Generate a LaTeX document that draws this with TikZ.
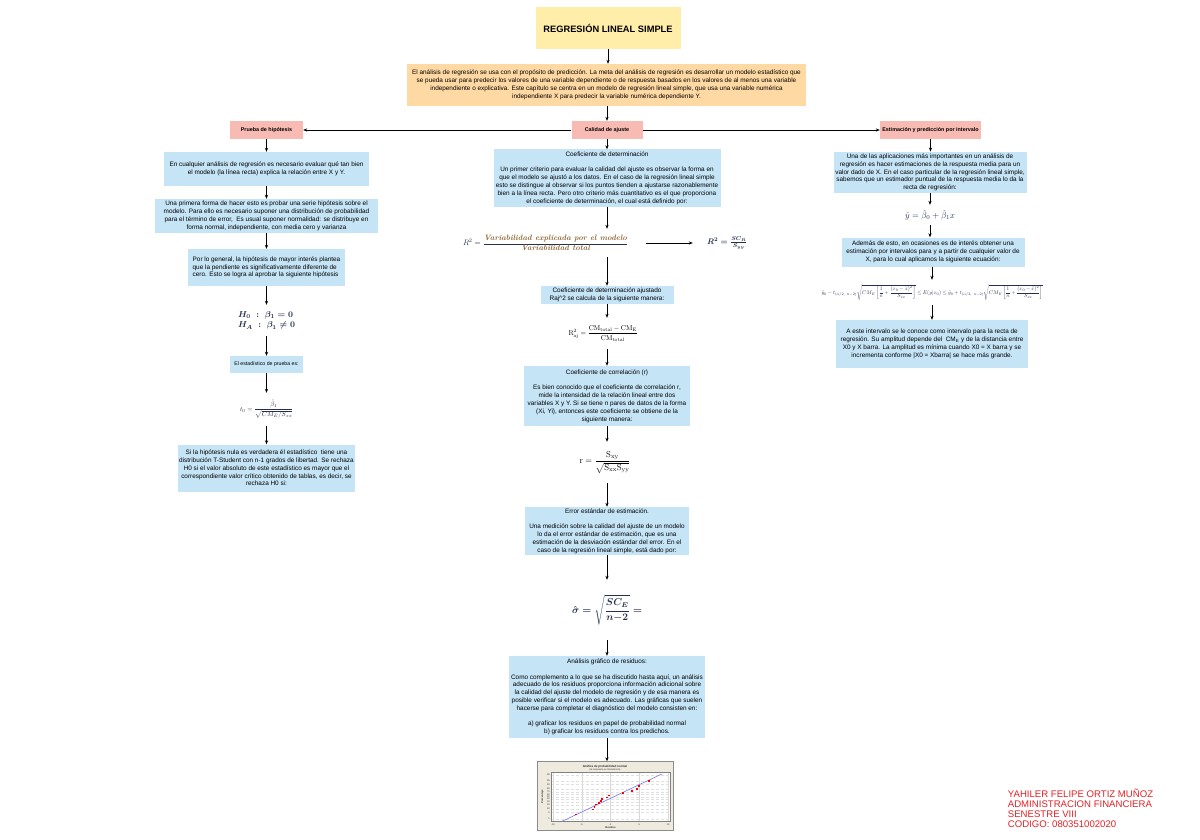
\documentclass[tikz,border=0pt]{standalone}
\usepackage{amsmath}
\usepackage{graphicx}
\usepackage{fontspec}
\setsansfont{Liberation Sans}
\usetikzlibrary{arrows.meta}
\definecolor{bluebox}{RGB}{197,228,246}
\definecolor{pinkbox}{RGB}{248,187,180}
\definecolor{peach}{RGB}{255,217,163}
\definecolor{titley}{RGB}{255,238,170}
\definecolor{navy}{RGB}{38,48,78}
\definecolor{brownf}{RGB}{140,100,45}
\definecolor{redtxt}{RGB}{230,32,36}
\definecolor{beige}{RGB}{238,234,222}
\definecolor{plotblue}{RGB}{120,120,240}
\begin{document}
\begin{tikzpicture}[x=1pt,y=-1pt,
  bx/.style={rectangle, inner sep=0pt, align=center, font=\sffamily\fontsize{6.4}{7.8}\selectfont},
  bluebx/.style={bx, fill=bluebox},
  pinkbx/.style={rectangle, fill=pinkbox, inner sep=0pt, minimum height=18pt, font=\sffamily\bfseries\fontsize{5.4}{6}\selectfont},
  fml/.style={inner sep=0pt, text=navy},
  fmlk/.style={inner sep=0pt, text=black},
  arr/.style={-{Stealth[length=4pt,width=3.2pt]}, line width=0.7pt, black},
  tiny/.style={inner sep=0pt, font=\sffamily\fontsize{2.4}{2.8}\selectfont, text=black!80},
  dot/.style={fill=red, draw=none},
]
\path[fill=white, use as bounding box] (0,0) rectangle (1200,840);

% ---------- top ----------
\node[bx, fill=titley, minimum width=145pt, minimum height=42pt,
      font=\sffamily\bfseries\fontsize{9.3}{11}\selectfont] (title) at (608,28) {REGRESIÓN LINEAL SIMPLE};
\node[bx, fill=peach, minimum width=399pt, minimum height=42pt] (intro) at (606.5,85)
 {El análisis de regresión se usa con el propósito de predicción. La meta del análisis de regresión es desarrollar un modelo estadístico que\\
  se pueda usar para predecir los valores de una variable dependiente o de respuesta basados en los valores de al menos una variable\\
  independiente o explicativa. Este capítulo se centra en un modelo de regresión lineal simple, que usa una variable numérica\\
  independiente X para predecir la variable numérica dependiente Y.};
\node[pinkbx, minimum width=71pt] (calidad) at (607,130) {Calidad de ajuste};
\node[pinkbx, minimum width=73pt] (prueba) at (266.5,130) {Prueba de hipótesis};
\node[pinkbx, minimum width=101pt] (estim) at (930.5,130) {Estimación y predicción por intervalo};

% ---------- left column ----------
\node[bluebx, minimum width=205pt, minimum height=34pt] (L1) at (266.5,169)
 {En cualquier análisis de regresión es necesario evaluar qué tan bien\\
  el modelo (la línea recta) explica la relación entre X y Y.};
\node[bluebx, minimum width=223pt, minimum height=34pt] (L2) at (266.5,216)
 {Una primera forma de hacer esto es probar una serie hipótesis sobre el\\
  modelo. Para ello es necesario suponer una distribución de probabilidad\\
  para el término de error,\ \ Es usual suponer normalidad: se distribuye en\\
  forma normal, independiente, con media cero y varianza};
\node[bluebx, align=left, minimum width=157pt, minimum height=37pt] (L3) at (266.5,267.5)
 {Por lo general, la hipótesis de mayor interés plantea\\
  que la pendiente es significativamente diferente de\\
  cero. Esto se logra al aprobar la siguiente hipótesis};
\node[fml, minimum height=31pt] (hyp) at (266.5,320.5)
 {\resizebox{57pt}{!}{\boldmath$\begin{array}{@{}l@{}} H_0\ :\ \beta_1 = 0\\ H_A\ :\ \beta_1 \neq 0\end{array}$}};
\node[bluebx, minimum width=73pt, minimum height=17pt, font=\sffamily\fontsize{5.2}{6}\selectfont] (L4) at (266.5,364.5)
 {El estadístico de prueba es:};
\node[fml, minimum height=33pt] (tzero) at (266.5,409.5)
 {\resizebox{53pt}{!}{$t_0 = \dfrac{\hat{\beta}_1}{\sqrt{CM_E/S_{xx}}}$}};
\node[bluebx, minimum width=177pt, minimum height=47pt] (L5) at (266.5,468)
 {Si la hipótesis nula es verdadera él estadístico\ \ tiene una\\
  distribución T-Student con n-1 grados de libertad. Se rechaza\\
  H0 si el valor absoluto de este estadístico es mayor que el\\
  correspondiente valor crítico obtenido de tablas, es decir, se\\
  rechaza H0 si:};

% ---------- middle column ----------
\node[bluebx, minimum width=227pt, minimum height=57pt] (M1) at (607,178)
 {Coeficiente de determinación\\[7.8pt]
  Un primer criterio para evaluar la calidad del ajuste es observar la forma en\\
  que el modelo se ajustó a los datos. En el caso de la regresión lineal simple\\
  esto se distingue al observar si los puntos tienden a ajustarse razonablemente\\
  bien a la línea recta. Pero otro criterio más cuantitativo es el que proporciona\\
  el coeficiente de determinación, el cual está definido por:};
\node[fml, inner xsep=18pt, minimum height=28pt] (R2a) at (545.5,243)
 {\resizebox{165pt}{!}{$R^2 = \dfrac{\textcolor{brownf}{\mbox{\rmfamily\bfseries\itshape Variabilidad explicada por el modelo}}}{\textcolor{brownf}{\mbox{\rmfamily\bfseries\itshape Variabilidad total}}}$}};
\node[fml, inner xsep=14pt, minimum height=28pt] (R2b) at (727,243)
 {\resizebox{40pt}{!}{\boldmath$R^2 = \frac{SC_R}{S_{yy}}$}};
\node[bluebx, minimum width=133pt, minimum height=18pt] (M2) at (607,295)
 {Coeficiente de determinación ajustado\\
  Raj\textasciicircum 2 se calcula de la siguiente manera:};
\node[fmlk, minimum height=31pt] (Radj) at (603,333.5)
 {\resizebox{69pt}{!}{$\mathrm{R}^2_{\mathrm{aj}} = \dfrac{\mathrm{CM_{total}} - \mathrm{CM_E}}{\mathrm{CM_{total}}}$}};
\node[bluebx, minimum width=166pt, minimum height=60pt] (M3) at (607,396)
 {Coeficiente de correlación (r)\\[7.8pt]
  Es bien conocido que el coeficiente de correlación r,\\
  mide la intensidad de la relación lineal entre dos\\
  variables X y Y. Si se tiene n pares de datos de la forma\\
  (Xi, Yi), entonces este coeficiente se obtiene de la\\
  siguiente manera:};
\node[fmlk, minimum height=41pt] (rf) at (605,462.5)
 {\resizebox{51pt}{!}{$\mathrm{r} = \dfrac{\mathrm{S_{xy}}}{\sqrt{\mathrm{S_{xx}S_{yy}}}}$}};
\node[bluebx, minimum width=164pt, minimum height=48pt] (M4) at (607,531)
 {Error estándar de estimación.\\[7.8pt]
  Una medición sobre la calidad del ajuste de un modelo\\
  lo da el error estándar de estimación, que es una\\
  estimación de la desviación estándar del error. En el\\
  caso de la regresión lineal simple, está dado por:};
\node[fml, minimum height=60pt] (sig) at (607,610)
 {\resizebox{70pt}{!}{\boldmath$\hat{\sigma} = \sqrt{\dfrac{SC_E}{n{-}2}}=$}};
\node[bluebx, minimum width=196pt, minimum height=82pt] (M5) at (607,697)
 {Análisis gráfico de residuos:\\[7.8pt]
  Como complemento a lo que se ha discutido hasta aquí, un análisis\\
  adecuado de los residuos proporciona información adicional sobre\\
  la calidad del ajuste del modelo de regresión y de esa manera es\\
  posible verificar si el modelo es adecuado. Las gráficas que suelen\\
  hacerse para completar el diagnóstico del modelo consisten en:\\[7.8pt]
  a) graficar los residuos en papel de probabilidad normal\\
  b) graficar los residuos contra los predichos.};

% chart
\node[draw=black!45, line width=0.5pt, fill=beige, minimum width=135.5pt, minimum height=69pt, inner sep=0pt] (chart) at (605.25,796) {};
\fill[white] (551,772) rectangle (670,821.5);
\foreach \gx in {553,581.75,610.5,639.25,668} \draw[black!15, line width=0.3pt] (\gx,772) -- (\gx,821.5);
\foreach \gy/\lab in {774.65/99,781.1/95,784.6/90,788.75/80,791.77/70,794.34/60,796.75/50,799.16/40,801.73/30,804.75/20,808.93/10,812.38/5,818.85/1}{
  \draw[black!12, densely dashed, line width=0.25pt] (551,\gy) -- (670,\gy);
  \node[tiny, anchor=east] at (550,\gy) {\lab};
}
\draw[black!50, line width=0.4pt] (551,772) rectangle (670,821.5);
\foreach \gx/\lab in {553/-10,581.75/-5,610.5/0,639.25/5,668/10} \node[tiny] at (\gx,824.5) {\lab};
\node[tiny, font=\sffamily\bfseries\fontsize{3}{3.5}\selectfont] at (605,766.5) {Gráfica de probabilidad normal};
\node[tiny] at (605,769.6) {(la respuesta es Resistencia)};
\node[tiny, font=\sffamily\bfseries\fontsize{2.6}{3}\selectfont] at (610.5,828) {Residuo};
\node[tiny, rotate=90, font=\sffamily\bfseries\fontsize{2.6}{3}\selectfont] at (542.5,797) {Porcentaje};
\draw[plotblue, line width=0.6pt] (561.7,821.5) -- (661.7,774);
\foreach \px/\py in {575.7/814.3,592.7/809.3,594.3/806.7,596/804.3,599/802.7,600.7/800.7,602/799,607/797.3,608.7/795.3,623/793,631.7/791,637/788.7,638.7/785.7,649/780.7}
  \fill[dot] (\px-0.8,\py-0.8) rectangle (\px+0.8,\py+0.8);

% ---------- right column ----------
\node[bluebx, minimum width=193pt, minimum height=41.5pt] (R1) at (930,172.5)
 {Una de las aplicaciones más importantes en un análisis de\\
  regresión es hacer estimaciones de la respuesta media para un\\
  valor dado de X. En el caso particular de la regresión lineal simple,\\
  sabemos que un estimador puntual de la respuesta media lo da la\\
  recta de regresión:};
\node[fml, minimum height=20pt] (yhat) at (930,215)
 {\resizebox{50pt}{!}{$\hat{y} = \hat{\beta}_0 + \hat{\beta}_1 x$}};
\node[bluebx, minimum width=183pt, minimum height=29pt] (R2) at (933,252)
 {Además de esto, en ocasiones es de interés obtener una\\
  estimación por intervalos para y a partir de cualquier valor de\\
  X, para lo cual aplicamos la siguiente ecuación:};
\node[fml, minimum height=25pt] (intv) at (932,292.5)
 {\resizebox{221pt}{!}{$\hat{y}_0 - t_{(\alpha/2,\ n-2)}\sqrt{CM_E\left[\dfrac{1}{n}+\dfrac{(x_0-\bar{x})^2}{S_{xx}}\right]} \le E(y|x_0) \le \hat{y}_0 + t_{(\alpha/2,\ n-2)}\sqrt{CM_E\left[\dfrac{1}{n}+\dfrac{(x_0-\bar{x})^2}{S_{xx}}\right]}$}};
\node[bluebx, minimum width=192pt, minimum height=48pt] (R3) at (932,344)
 {A este intervalo se le conoce como intervalo para la recta de\\
  regresión. Su amplitud depende del\ \ CM\textsubscript{E} y de la distancia entre\\
  X0 y X barra. La amplitud es mínima cuando X0 = X barra y se\\
  incrementa conforme |X0 = Xbarra| se hace más grande.};

% author
\node[anchor=north west, align=left, inner sep=0pt, text=redtxt,
      font=\sffamily\fontsize{9.6}{10}\selectfont] (author) at (1007.7,788.5)
 {YAHILER FELIPE ORTIZ MUÑOZ\\ADMINISTRACION FINANCIERA\\SENESTRE VIII\\CODIGO: 080351002020};

% ---------- connectors ----------
\draw[arr] (title.south) -- (title.south |- intro.north);
\draw[arr] (intro.south -| calidad.north) -- (calidad.north);
\draw[arr] (calidad.west) -- (prueba.east);
\draw[arr] (calidad.east) -- (estim.west);
% left
\draw[arr] (prueba.south) -- (L1.north);
\draw[arr] (L1.south) -- (L2.north);
\draw[arr] (L2.south) -- (L3.north);
\draw[arr] (L3.south) -- (hyp.north);
\draw[arr] (hyp.south) -- (L4.north);
\draw[arr] (L4.south) -- (tzero.north);
\draw[arr] (tzero.south) -- (L5.north);
% middle
\draw[arr] (calidad.south) -- (M1.north);
\draw[arr] (M1.south) -- (M1.south |- R2a.north);
\draw[arr] (R2a.east) -- (R2b.west);
\draw[arr] (R2a.south -| M2.north) -- (M2.north);
\draw[arr] (M2.south) -- (M2.south |- Radj.north);
\draw[arr] (Radj.south -| M3.north) -- (M3.north);
\draw[arr] (M3.south) -- (M3.south |- rf.north);
\draw[arr] (rf.south -| M4.north) -- (M4.north);
\draw[arr] (M4.south) -- (sig.north);
\draw[arr] (sig.south) -- (M5.north);
\draw[arr] (M5.south) -- (M5.south |- chart.north);
% right
\draw[arr] (estim.south) -- (estim.south |- R1.north);
\draw[arr] (R1.south) -- (yhat.north);
\draw[arr] (yhat.south) -- (yhat.south |- R2.north);
\draw[arr] (R2.south -| intv.north) -- (intv.north);
\draw[arr] (intv.south) -- (R3.north);
\end{tikzpicture}
\end{document}
